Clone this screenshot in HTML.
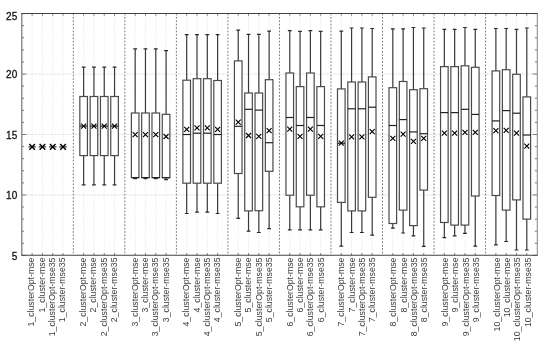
<!DOCTYPE html><html><head><meta charset="utf-8"><style>html,body{margin:0;padding:0;background:#fff;}svg{display:block;}text{font-family:"Liberation Sans",Arial,sans-serif;}</style></head><body>
<svg width="550" height="350" viewBox="0 0 550 350">
<rect x="0" y="0" width="550" height="350" fill="#fff"/>
<line x1="21.8" y1="194.95" x2="537.1" y2="194.95" stroke="#e3e3e3" stroke-width="1" stroke-dasharray="3,1"/>
<line x1="21.8" y1="134.50" x2="537.1" y2="134.50" stroke="#e3e3e3" stroke-width="1" stroke-dasharray="3,1"/>
<line x1="21.8" y1="74.05" x2="537.1" y2="74.05" stroke="#e3e3e3" stroke-width="1" stroke-dasharray="3,1"/>
<line x1="32.11" y1="13.5" x2="32.11" y2="255.3" stroke="#e2e2e2" stroke-width="0.8" stroke-dasharray="1,1.2"/>
<line x1="42.41" y1="13.5" x2="42.41" y2="255.3" stroke="#e2e2e2" stroke-width="0.8" stroke-dasharray="1,1.2"/>
<line x1="52.72" y1="13.5" x2="52.72" y2="255.3" stroke="#e2e2e2" stroke-width="0.8" stroke-dasharray="1,1.2"/>
<line x1="63.02" y1="13.5" x2="63.02" y2="255.3" stroke="#e2e2e2" stroke-width="0.8" stroke-dasharray="1,1.2"/>
<line x1="83.64" y1="13.5" x2="83.64" y2="255.3" stroke="#e2e2e2" stroke-width="0.8" stroke-dasharray="1,1.2"/>
<line x1="93.94" y1="13.5" x2="93.94" y2="255.3" stroke="#e2e2e2" stroke-width="0.8" stroke-dasharray="1,1.2"/>
<line x1="104.25" y1="13.5" x2="104.25" y2="255.3" stroke="#e2e2e2" stroke-width="0.8" stroke-dasharray="1,1.2"/>
<line x1="114.55" y1="13.5" x2="114.55" y2="255.3" stroke="#e2e2e2" stroke-width="0.8" stroke-dasharray="1,1.2"/>
<line x1="135.17" y1="13.5" x2="135.17" y2="255.3" stroke="#e2e2e2" stroke-width="0.8" stroke-dasharray="1,1.2"/>
<line x1="145.47" y1="13.5" x2="145.47" y2="255.3" stroke="#e2e2e2" stroke-width="0.8" stroke-dasharray="1,1.2"/>
<line x1="155.78" y1="13.5" x2="155.78" y2="255.3" stroke="#e2e2e2" stroke-width="0.8" stroke-dasharray="1,1.2"/>
<line x1="166.08" y1="13.5" x2="166.08" y2="255.3" stroke="#e2e2e2" stroke-width="0.8" stroke-dasharray="1,1.2"/>
<line x1="186.70" y1="13.5" x2="186.70" y2="255.3" stroke="#e2e2e2" stroke-width="0.8" stroke-dasharray="1,1.2"/>
<line x1="197.00" y1="13.5" x2="197.00" y2="255.3" stroke="#e2e2e2" stroke-width="0.8" stroke-dasharray="1,1.2"/>
<line x1="207.31" y1="13.5" x2="207.31" y2="255.3" stroke="#e2e2e2" stroke-width="0.8" stroke-dasharray="1,1.2"/>
<line x1="217.61" y1="13.5" x2="217.61" y2="255.3" stroke="#e2e2e2" stroke-width="0.8" stroke-dasharray="1,1.2"/>
<line x1="238.23" y1="13.5" x2="238.23" y2="255.3" stroke="#e2e2e2" stroke-width="0.8" stroke-dasharray="1,1.2"/>
<line x1="248.53" y1="13.5" x2="248.53" y2="255.3" stroke="#e2e2e2" stroke-width="0.8" stroke-dasharray="1,1.2"/>
<line x1="258.84" y1="13.5" x2="258.84" y2="255.3" stroke="#e2e2e2" stroke-width="0.8" stroke-dasharray="1,1.2"/>
<line x1="269.14" y1="13.5" x2="269.14" y2="255.3" stroke="#e2e2e2" stroke-width="0.8" stroke-dasharray="1,1.2"/>
<line x1="289.76" y1="13.5" x2="289.76" y2="255.3" stroke="#e2e2e2" stroke-width="0.8" stroke-dasharray="1,1.2"/>
<line x1="300.06" y1="13.5" x2="300.06" y2="255.3" stroke="#e2e2e2" stroke-width="0.8" stroke-dasharray="1,1.2"/>
<line x1="310.37" y1="13.5" x2="310.37" y2="255.3" stroke="#e2e2e2" stroke-width="0.8" stroke-dasharray="1,1.2"/>
<line x1="320.67" y1="13.5" x2="320.67" y2="255.3" stroke="#e2e2e2" stroke-width="0.8" stroke-dasharray="1,1.2"/>
<line x1="341.29" y1="13.5" x2="341.29" y2="255.3" stroke="#e2e2e2" stroke-width="0.8" stroke-dasharray="1,1.2"/>
<line x1="351.59" y1="13.5" x2="351.59" y2="255.3" stroke="#e2e2e2" stroke-width="0.8" stroke-dasharray="1,1.2"/>
<line x1="361.90" y1="13.5" x2="361.90" y2="255.3" stroke="#e2e2e2" stroke-width="0.8" stroke-dasharray="1,1.2"/>
<line x1="372.20" y1="13.5" x2="372.20" y2="255.3" stroke="#e2e2e2" stroke-width="0.8" stroke-dasharray="1,1.2"/>
<line x1="392.82" y1="13.5" x2="392.82" y2="255.3" stroke="#e2e2e2" stroke-width="0.8" stroke-dasharray="1,1.2"/>
<line x1="403.12" y1="13.5" x2="403.12" y2="255.3" stroke="#e2e2e2" stroke-width="0.8" stroke-dasharray="1,1.2"/>
<line x1="413.43" y1="13.5" x2="413.43" y2="255.3" stroke="#e2e2e2" stroke-width="0.8" stroke-dasharray="1,1.2"/>
<line x1="423.73" y1="13.5" x2="423.73" y2="255.3" stroke="#e2e2e2" stroke-width="0.8" stroke-dasharray="1,1.2"/>
<line x1="444.35" y1="13.5" x2="444.35" y2="255.3" stroke="#e2e2e2" stroke-width="0.8" stroke-dasharray="1,1.2"/>
<line x1="454.65" y1="13.5" x2="454.65" y2="255.3" stroke="#e2e2e2" stroke-width="0.8" stroke-dasharray="1,1.2"/>
<line x1="464.96" y1="13.5" x2="464.96" y2="255.3" stroke="#e2e2e2" stroke-width="0.8" stroke-dasharray="1,1.2"/>
<line x1="475.26" y1="13.5" x2="475.26" y2="255.3" stroke="#e2e2e2" stroke-width="0.8" stroke-dasharray="1,1.2"/>
<line x1="495.88" y1="13.5" x2="495.88" y2="255.3" stroke="#e2e2e2" stroke-width="0.8" stroke-dasharray="1,1.2"/>
<line x1="506.18" y1="13.5" x2="506.18" y2="255.3" stroke="#e2e2e2" stroke-width="0.8" stroke-dasharray="1,1.2"/>
<line x1="516.49" y1="13.5" x2="516.49" y2="255.3" stroke="#e2e2e2" stroke-width="0.8" stroke-dasharray="1,1.2"/>
<line x1="526.79" y1="13.5" x2="526.79" y2="255.3" stroke="#e2e2e2" stroke-width="0.8" stroke-dasharray="1,1.2"/>
<line x1="73.33" y1="13.5" x2="73.33" y2="255.3" stroke="#7a7a7a" stroke-width="1" stroke-dasharray="1.8,1.6"/>
<line x1="124.86" y1="13.5" x2="124.86" y2="255.3" stroke="#7a7a7a" stroke-width="1" stroke-dasharray="1.8,1.6"/>
<line x1="176.39" y1="13.5" x2="176.39" y2="255.3" stroke="#7a7a7a" stroke-width="1" stroke-dasharray="1.8,1.6"/>
<line x1="227.92" y1="13.5" x2="227.92" y2="255.3" stroke="#7a7a7a" stroke-width="1" stroke-dasharray="1.8,1.6"/>
<line x1="279.45" y1="13.5" x2="279.45" y2="255.3" stroke="#7a7a7a" stroke-width="1" stroke-dasharray="1.8,1.6"/>
<line x1="330.98" y1="13.5" x2="330.98" y2="255.3" stroke="#7a7a7a" stroke-width="1" stroke-dasharray="1.8,1.6"/>
<line x1="382.51" y1="13.5" x2="382.51" y2="255.3" stroke="#7a7a7a" stroke-width="1" stroke-dasharray="1.8,1.6"/>
<line x1="434.04" y1="13.5" x2="434.04" y2="255.3" stroke="#7a7a7a" stroke-width="1" stroke-dasharray="1.8,1.6"/>
<line x1="485.57" y1="13.5" x2="485.57" y2="255.3" stroke="#7a7a7a" stroke-width="1" stroke-dasharray="1.8,1.6"/>
<path d="M21.8,255.40h4.5M537.1,255.40h-4.5M21.8,243.31h2.2M537.1,243.31h-2.2M21.8,231.22h2.2M537.1,231.22h-2.2M21.8,219.13h2.2M537.1,219.13h-2.2M21.8,207.04h2.2M537.1,207.04h-2.2M21.8,194.95h4.5M537.1,194.95h-4.5M21.8,182.86h2.2M537.1,182.86h-2.2M21.8,170.77h2.2M537.1,170.77h-2.2M21.8,158.68h2.2M537.1,158.68h-2.2M21.8,146.59h2.2M537.1,146.59h-2.2M21.8,134.50h4.5M537.1,134.50h-4.5M21.8,122.41h2.2M537.1,122.41h-2.2M21.8,110.32h2.2M537.1,110.32h-2.2M21.8,98.23h2.2M537.1,98.23h-2.2M21.8,86.14h2.2M537.1,86.14h-2.2M21.8,74.05h4.5M537.1,74.05h-4.5M21.8,61.96h2.2M537.1,61.96h-2.2M21.8,49.87h2.2M537.1,49.87h-2.2M21.8,37.78h2.2M537.1,37.78h-2.2M21.8,25.69h2.2M537.1,25.69h-2.2M21.8,13.60h4.5M537.1,13.60h-4.5M32.11,13.5v2.2M32.11,255.3v-2.2M42.41,13.5v2.2M42.41,255.3v-2.2M52.72,13.5v2.2M52.72,255.3v-2.2M63.02,13.5v2.2M63.02,255.3v-2.2M83.64,13.5v2.2M83.64,255.3v-2.2M93.94,13.5v2.2M93.94,255.3v-2.2M104.25,13.5v2.2M104.25,255.3v-2.2M114.55,13.5v2.2M114.55,255.3v-2.2M135.17,13.5v2.2M135.17,255.3v-2.2M145.47,13.5v2.2M145.47,255.3v-2.2M155.78,13.5v2.2M155.78,255.3v-2.2M166.08,13.5v2.2M166.08,255.3v-2.2M186.70,13.5v2.2M186.70,255.3v-2.2M197.00,13.5v2.2M197.00,255.3v-2.2M207.31,13.5v2.2M207.31,255.3v-2.2M217.61,13.5v2.2M217.61,255.3v-2.2M238.23,13.5v2.2M238.23,255.3v-2.2M248.53,13.5v2.2M248.53,255.3v-2.2M258.84,13.5v2.2M258.84,255.3v-2.2M269.14,13.5v2.2M269.14,255.3v-2.2M289.76,13.5v2.2M289.76,255.3v-2.2M300.06,13.5v2.2M300.06,255.3v-2.2M310.37,13.5v2.2M310.37,255.3v-2.2M320.67,13.5v2.2M320.67,255.3v-2.2M341.29,13.5v2.2M341.29,255.3v-2.2M351.59,13.5v2.2M351.59,255.3v-2.2M361.90,13.5v2.2M361.90,255.3v-2.2M372.20,13.5v2.2M372.20,255.3v-2.2M392.82,13.5v2.2M392.82,255.3v-2.2M403.12,13.5v2.2M403.12,255.3v-2.2M413.43,13.5v2.2M413.43,255.3v-2.2M423.73,13.5v2.2M423.73,255.3v-2.2M444.35,13.5v2.2M444.35,255.3v-2.2M454.65,13.5v2.2M454.65,255.3v-2.2M464.96,13.5v2.2M464.96,255.3v-2.2M475.26,13.5v2.2M475.26,255.3v-2.2M495.88,13.5v2.2M495.88,255.3v-2.2M506.18,13.5v2.2M506.18,255.3v-2.2M516.49,13.5v2.2M516.49,255.3v-2.2M526.79,13.5v2.2M526.79,255.3v-2.2" stroke="#7a7a7a" stroke-width="1" fill="none"/>
<path d="M21.8,13.5V255.3" stroke="#808080" stroke-width="1.3" fill="none"/>
<path d="M537.3000000000001,13.5V255.3" stroke="#8a8a8a" stroke-width="1.05" fill="none"/>
<path d="M21.2,13.5H537.7M21.2,255.3H537.7" stroke="#444" stroke-width="1.1" fill="none"/>
<path d="M28.31,146.85000000000002h7.6" stroke="#3a3a3a" stroke-width="1.2" fill="none"/>
<path d="M29.31,144.05l5.6,5.6M29.31,149.65l5.6,-5.6" stroke="#000" stroke-width="1.4" fill="none"/>
<path d="M38.61,146.85000000000002h7.6" stroke="#3a3a3a" stroke-width="1.2" fill="none"/>
<path d="M39.61,144.05l5.6,5.6M39.61,149.65l5.6,-5.6" stroke="#000" stroke-width="1.4" fill="none"/>
<path d="M48.92,146.85000000000002h7.6" stroke="#3a3a3a" stroke-width="1.2" fill="none"/>
<path d="M49.92,144.05l5.6,5.6M49.92,149.65l5.6,-5.6" stroke="#000" stroke-width="1.4" fill="none"/>
<path d="M59.22,146.85000000000002h7.6" stroke="#3a3a3a" stroke-width="1.2" fill="none"/>
<path d="M60.22,144.05l5.6,5.6M60.22,149.65l5.6,-5.6" stroke="#000" stroke-width="1.4" fill="none"/>
<path d="M83.64,67.1V96.5M83.64,155.60000000000002V184.8" stroke="#3a3a3a" stroke-width="1.2" fill="none"/>
<path d="M81.74,67.1h3.8M81.74,184.8h3.8" stroke="#2a2a2a" stroke-width="1.2" fill="none"/>
<rect x="79.84" y="96.5" width="7.6" height="59.10" fill="#fff" stroke="#4a4a4a" stroke-width="1.2"/>
<path d="M79.84,126.1h7.6" stroke="#222" stroke-width="1.2" fill="none"/>
<path d="M81.14,123.60l5.0,5.0M81.14,128.60l5.0,-5.0" stroke="#000" stroke-width="1.15" fill="none"/>
<path d="M93.94,67.1V96.5M93.94,155.60000000000002V184.8" stroke="#3a3a3a" stroke-width="1.2" fill="none"/>
<path d="M92.04,67.1h3.8M92.04,184.8h3.8" stroke="#2a2a2a" stroke-width="1.2" fill="none"/>
<rect x="90.14" y="96.5" width="7.6" height="59.10" fill="#fff" stroke="#4a4a4a" stroke-width="1.2"/>
<path d="M90.14,126.1h7.6" stroke="#222" stroke-width="1.2" fill="none"/>
<path d="M91.44,123.60l5.0,5.0M91.44,128.60l5.0,-5.0" stroke="#000" stroke-width="1.15" fill="none"/>
<path d="M104.25,67.1V96.5M104.25,155.60000000000002V184.8" stroke="#3a3a3a" stroke-width="1.2" fill="none"/>
<path d="M102.35,67.1h3.8M102.35,184.8h3.8" stroke="#2a2a2a" stroke-width="1.2" fill="none"/>
<rect x="100.45" y="96.5" width="7.6" height="59.10" fill="#fff" stroke="#4a4a4a" stroke-width="1.2"/>
<path d="M100.45,126.1h7.6" stroke="#222" stroke-width="1.2" fill="none"/>
<path d="M101.75,123.60l5.0,5.0M101.75,128.60l5.0,-5.0" stroke="#000" stroke-width="1.15" fill="none"/>
<path d="M114.55,67.1V96.5M114.55,155.60000000000002V184.8" stroke="#3a3a3a" stroke-width="1.2" fill="none"/>
<path d="M112.65,67.1h3.8M112.65,184.8h3.8" stroke="#2a2a2a" stroke-width="1.2" fill="none"/>
<rect x="110.75" y="96.5" width="7.6" height="59.10" fill="#fff" stroke="#4a4a4a" stroke-width="1.2"/>
<path d="M110.75,126.1h7.6" stroke="#222" stroke-width="1.2" fill="none"/>
<path d="M112.05,123.60l5.0,5.0M112.05,128.60l5.0,-5.0" stroke="#000" stroke-width="1.15" fill="none"/>
<path d="M135.17,48.8V113.0M135.17,177.60000000000002V178.60000000000002" stroke="#3a3a3a" stroke-width="1.2" fill="none"/>
<path d="M133.27,48.8h3.8M133.27,178.60000000000002h3.8" stroke="#2a2a2a" stroke-width="1.2" fill="none"/>
<rect x="131.37" y="113.0" width="7.6" height="64.60" fill="#fff" stroke="#4a4a4a" stroke-width="1.2"/>
<path d="M131.37,177.60000000000002h7.6" stroke="#222" stroke-width="1.2" fill="none"/>
<path d="M132.67,132.20l5.0,5.0M132.67,137.20l5.0,-5.0" stroke="#000" stroke-width="1.15" fill="none"/>
<path d="M145.47,48.8V113.0M145.47,177.60000000000002V178.60000000000002" stroke="#3a3a3a" stroke-width="1.2" fill="none"/>
<path d="M143.57,48.8h3.8M143.57,178.60000000000002h3.8" stroke="#2a2a2a" stroke-width="1.2" fill="none"/>
<rect x="141.67" y="113.0" width="7.6" height="64.60" fill="#fff" stroke="#4a4a4a" stroke-width="1.2"/>
<path d="M141.67,177.60000000000002h7.6" stroke="#222" stroke-width="1.2" fill="none"/>
<path d="M142.97,132.20l5.0,5.0M142.97,137.20l5.0,-5.0" stroke="#000" stroke-width="1.15" fill="none"/>
<path d="M155.78,48.8V113.0M155.78,177.60000000000002V178.60000000000002" stroke="#3a3a3a" stroke-width="1.2" fill="none"/>
<path d="M153.88,48.8h3.8M153.88,178.60000000000002h3.8" stroke="#2a2a2a" stroke-width="1.2" fill="none"/>
<rect x="151.98" y="113.0" width="7.6" height="64.60" fill="#fff" stroke="#4a4a4a" stroke-width="1.2"/>
<path d="M151.98,177.60000000000002h7.6" stroke="#222" stroke-width="1.2" fill="none"/>
<path d="M153.28,132.20l5.0,5.0M153.28,137.20l5.0,-5.0" stroke="#000" stroke-width="1.15" fill="none"/>
<path d="M166.08,50.599999999999994V114.3M166.08,177.70000000000002V179.70000000000002" stroke="#3a3a3a" stroke-width="1.2" fill="none"/>
<path d="M164.18,50.599999999999994h3.8M164.18,179.70000000000002h3.8" stroke="#2a2a2a" stroke-width="1.2" fill="none"/>
<rect x="162.28" y="114.3" width="7.6" height="63.40" fill="#fff" stroke="#4a4a4a" stroke-width="1.2"/>
<path d="M162.28,177.70000000000002h7.6" stroke="#222" stroke-width="1.2" fill="none"/>
<path d="M163.58,134.00l5.0,5.0M163.58,139.00l5.0,-5.0" stroke="#000" stroke-width="1.15" fill="none"/>
<path d="M186.70,34.699999999999996V80.2M186.70,183.20000000000002V213.5" stroke="#3a3a3a" stroke-width="1.2" fill="none"/>
<path d="M184.80,34.699999999999996h3.8M184.80,213.5h3.8" stroke="#2a2a2a" stroke-width="1.2" fill="none"/>
<rect x="182.90" y="80.2" width="7.6" height="103.00" fill="#fff" stroke="#4a4a4a" stroke-width="1.2"/>
<path d="M182.90,134.5h7.6" stroke="#222" stroke-width="1.2" fill="none"/>
<path d="M184.20,126.80l5.0,5.0M184.20,131.80l5.0,-5.0" stroke="#000" stroke-width="1.15" fill="none"/>
<path d="M197.00,34.699999999999996V78.7M197.00,183.20000000000002V212.20000000000002" stroke="#3a3a3a" stroke-width="1.2" fill="none"/>
<path d="M195.10,34.699999999999996h3.8M195.10,212.20000000000002h3.8" stroke="#2a2a2a" stroke-width="1.2" fill="none"/>
<rect x="193.20" y="78.7" width="7.6" height="104.50" fill="#fff" stroke="#4a4a4a" stroke-width="1.2"/>
<path d="M193.20,133.20000000000002h7.6" stroke="#222" stroke-width="1.2" fill="none"/>
<path d="M194.50,125.30l5.0,5.0M194.50,130.30l5.0,-5.0" stroke="#000" stroke-width="1.15" fill="none"/>
<path d="M207.31,34.699999999999996V78.7M207.31,183.20000000000002V212.20000000000002" stroke="#3a3a3a" stroke-width="1.2" fill="none"/>
<path d="M205.41,34.699999999999996h3.8M205.41,212.20000000000002h3.8" stroke="#2a2a2a" stroke-width="1.2" fill="none"/>
<rect x="203.51" y="78.7" width="7.6" height="104.50" fill="#fff" stroke="#4a4a4a" stroke-width="1.2"/>
<path d="M203.51,133.20000000000002h7.6" stroke="#222" stroke-width="1.2" fill="none"/>
<path d="M204.81,125.30l5.0,5.0M204.81,130.30l5.0,-5.0" stroke="#000" stroke-width="1.15" fill="none"/>
<path d="M217.61,34.699999999999996V80.5M217.61,183.20000000000002V213.5" stroke="#3a3a3a" stroke-width="1.2" fill="none"/>
<path d="M215.71,34.699999999999996h3.8M215.71,213.5h3.8" stroke="#2a2a2a" stroke-width="1.2" fill="none"/>
<rect x="213.81" y="80.5" width="7.6" height="102.70" fill="#fff" stroke="#4a4a4a" stroke-width="1.2"/>
<path d="M213.81,134.5h7.6" stroke="#222" stroke-width="1.2" fill="none"/>
<path d="M215.11,126.80l5.0,5.0M215.11,131.80l5.0,-5.0" stroke="#000" stroke-width="1.15" fill="none"/>
<path d="M238.23,30.1V60.9M238.23,173.5V218.4" stroke="#3a3a3a" stroke-width="1.2" fill="none"/>
<path d="M236.33,30.1h3.8M236.33,218.4h3.8" stroke="#2a2a2a" stroke-width="1.2" fill="none"/>
<rect x="234.43" y="60.9" width="7.6" height="112.60" fill="#fff" stroke="#4a4a4a" stroke-width="1.2"/>
<path d="M234.43,126.3h7.6" stroke="#222" stroke-width="1.2" fill="none"/>
<path d="M235.73,119.70l5.0,5.0M235.73,124.70l5.0,-5.0" stroke="#000" stroke-width="1.15" fill="none"/>
<path d="M248.53,34.4V93.0M248.53,210.9V231.20000000000002" stroke="#3a3a3a" stroke-width="1.2" fill="none"/>
<path d="M246.63,34.4h3.8M246.63,231.20000000000002h3.8" stroke="#2a2a2a" stroke-width="1.2" fill="none"/>
<rect x="244.73" y="93.0" width="7.6" height="117.90" fill="#fff" stroke="#4a4a4a" stroke-width="1.2"/>
<path d="M244.73,109.3h7.6" stroke="#222" stroke-width="1.2" fill="none"/>
<path d="M246.03,133.00l5.0,5.0M246.03,138.00l5.0,-5.0" stroke="#000" stroke-width="1.15" fill="none"/>
<path d="M258.84,34.4V93.0M258.84,210.70000000000002V232.5" stroke="#3a3a3a" stroke-width="1.2" fill="none"/>
<path d="M256.94,34.4h3.8M256.94,232.5h3.8" stroke="#2a2a2a" stroke-width="1.2" fill="none"/>
<rect x="255.04" y="93.0" width="7.6" height="117.70" fill="#fff" stroke="#4a4a4a" stroke-width="1.2"/>
<path d="M255.04,110.1h7.6" stroke="#222" stroke-width="1.2" fill="none"/>
<path d="M256.34,133.80l5.0,5.0M256.34,138.80l5.0,-5.0" stroke="#000" stroke-width="1.15" fill="none"/>
<path d="M269.14,31.1V79.7M269.14,171.3V228.70000000000002" stroke="#3a3a3a" stroke-width="1.2" fill="none"/>
<path d="M267.24,31.1h3.8M267.24,228.70000000000002h3.8" stroke="#2a2a2a" stroke-width="1.2" fill="none"/>
<rect x="265.34" y="79.7" width="7.6" height="91.60" fill="#fff" stroke="#4a4a4a" stroke-width="1.2"/>
<path d="M265.34,142.70000000000002h7.6" stroke="#222" stroke-width="1.2" fill="none"/>
<path d="M266.64,128.10l5.0,5.0M266.64,133.10l5.0,-5.0" stroke="#000" stroke-width="1.15" fill="none"/>
<path d="M289.76,30.6V73.0M289.76,195.20000000000002V229.9" stroke="#3a3a3a" stroke-width="1.2" fill="none"/>
<path d="M287.86,30.6h3.8M287.86,229.9h3.8" stroke="#2a2a2a" stroke-width="1.2" fill="none"/>
<rect x="285.96" y="73.0" width="7.6" height="122.20" fill="#fff" stroke="#4a4a4a" stroke-width="1.2"/>
<path d="M285.96,117.5h7.6" stroke="#222" stroke-width="1.2" fill="none"/>
<path d="M287.26,126.60l5.0,5.0M287.26,131.60l5.0,-5.0" stroke="#000" stroke-width="1.15" fill="none"/>
<path d="M300.06,31.400000000000002V86.6M300.06,206.8V229.9" stroke="#3a3a3a" stroke-width="1.2" fill="none"/>
<path d="M298.16,31.400000000000002h3.8M298.16,229.9h3.8" stroke="#2a2a2a" stroke-width="1.2" fill="none"/>
<rect x="296.26" y="86.6" width="7.6" height="120.20" fill="#fff" stroke="#4a4a4a" stroke-width="1.2"/>
<path d="M296.26,125.5h7.6" stroke="#222" stroke-width="1.2" fill="none"/>
<path d="M297.56,133.80l5.0,5.0M297.56,138.80l5.0,-5.0" stroke="#000" stroke-width="1.15" fill="none"/>
<path d="M310.37,30.6V73.0M310.37,195.20000000000002V229.9" stroke="#3a3a3a" stroke-width="1.2" fill="none"/>
<path d="M308.47,30.6h3.8M308.47,229.9h3.8" stroke="#2a2a2a" stroke-width="1.2" fill="none"/>
<rect x="306.57" y="73.0" width="7.6" height="122.20" fill="#fff" stroke="#4a4a4a" stroke-width="1.2"/>
<path d="M306.57,117.5h7.6" stroke="#222" stroke-width="1.2" fill="none"/>
<path d="M307.87,126.60l5.0,5.0M307.87,131.60l5.0,-5.0" stroke="#000" stroke-width="1.15" fill="none"/>
<path d="M320.67,31.400000000000002V86.6M320.67,206.8V229.9" stroke="#3a3a3a" stroke-width="1.2" fill="none"/>
<path d="M318.77,31.400000000000002h3.8M318.77,229.9h3.8" stroke="#2a2a2a" stroke-width="1.2" fill="none"/>
<rect x="316.87" y="86.6" width="7.6" height="120.20" fill="#fff" stroke="#4a4a4a" stroke-width="1.2"/>
<path d="M316.87,125.5h7.6" stroke="#222" stroke-width="1.2" fill="none"/>
<path d="M318.17,133.80l5.0,5.0M318.17,138.80l5.0,-5.0" stroke="#000" stroke-width="1.15" fill="none"/>
<path d="M341.29,31.1V88.89999999999999M341.29,202.4V246.10000000000002" stroke="#3a3a3a" stroke-width="1.2" fill="none"/>
<path d="M339.39,31.1h3.8M339.39,246.10000000000002h3.8" stroke="#2a2a2a" stroke-width="1.2" fill="none"/>
<rect x="337.49" y="88.89999999999999" width="7.6" height="113.50" fill="#fff" stroke="#4a4a4a" stroke-width="1.2"/>
<path d="M337.49,143.20000000000002h7.6" stroke="#222" stroke-width="1.2" fill="none"/>
<path d="M338.79,140.70l5.0,5.0M338.79,145.70l5.0,-5.0" stroke="#000" stroke-width="1.15" fill="none"/>
<path d="M351.59,28.0V82.0M351.59,210.9V232.5" stroke="#3a3a3a" stroke-width="1.2" fill="none"/>
<path d="M349.69,28.0h3.8M349.69,232.5h3.8" stroke="#2a2a2a" stroke-width="1.2" fill="none"/>
<rect x="347.79" y="82.0" width="7.6" height="128.90" fill="#fff" stroke="#4a4a4a" stroke-width="1.2"/>
<path d="M347.79,108.8h7.6" stroke="#222" stroke-width="1.2" fill="none"/>
<path d="M349.09,134.30l5.0,5.0M349.09,139.30l5.0,-5.0" stroke="#000" stroke-width="1.15" fill="none"/>
<path d="M361.90,28.0V82.0M361.90,210.9V232.5" stroke="#3a3a3a" stroke-width="1.2" fill="none"/>
<path d="M360.00,28.0h3.8M360.00,232.5h3.8" stroke="#2a2a2a" stroke-width="1.2" fill="none"/>
<rect x="358.10" y="82.0" width="7.6" height="128.90" fill="#fff" stroke="#4a4a4a" stroke-width="1.2"/>
<path d="M358.10,108.8h7.6" stroke="#222" stroke-width="1.2" fill="none"/>
<path d="M359.40,134.30l5.0,5.0M359.40,139.30l5.0,-5.0" stroke="#000" stroke-width="1.15" fill="none"/>
<path d="M372.20,28.5V76.89999999999999M372.20,197.3V235.10000000000002" stroke="#3a3a3a" stroke-width="1.2" fill="none"/>
<path d="M370.30,28.5h3.8M370.30,235.10000000000002h3.8" stroke="#2a2a2a" stroke-width="1.2" fill="none"/>
<rect x="368.40" y="76.89999999999999" width="7.6" height="120.40" fill="#fff" stroke="#4a4a4a" stroke-width="1.2"/>
<path d="M368.40,107.2h7.6" stroke="#222" stroke-width="1.2" fill="none"/>
<path d="M369.70,129.20l5.0,5.0M369.70,134.20l5.0,-5.0" stroke="#000" stroke-width="1.15" fill="none"/>
<path d="M392.82,28.8V87.7M392.82,223.5V228.10000000000002" stroke="#3a3a3a" stroke-width="1.2" fill="none"/>
<path d="M390.92,28.8h3.8M390.92,228.10000000000002h3.8" stroke="#2a2a2a" stroke-width="1.2" fill="none"/>
<rect x="389.02" y="87.7" width="7.6" height="135.80" fill="#fff" stroke="#4a4a4a" stroke-width="1.2"/>
<path d="M389.02,125.5h7.6" stroke="#222" stroke-width="1.2" fill="none"/>
<path d="M390.32,135.80l5.0,5.0M390.32,140.80l5.0,-5.0" stroke="#000" stroke-width="1.15" fill="none"/>
<path d="M403.12,28.8V81.5M403.12,210.10000000000002V233.0" stroke="#3a3a3a" stroke-width="1.2" fill="none"/>
<path d="M401.22,28.8h3.8M401.22,233.0h3.8" stroke="#2a2a2a" stroke-width="1.2" fill="none"/>
<rect x="399.32" y="81.5" width="7.6" height="128.60" fill="#fff" stroke="#4a4a4a" stroke-width="1.2"/>
<path d="M399.32,119.6h7.6" stroke="#222" stroke-width="1.2" fill="none"/>
<path d="M400.62,131.70l5.0,5.0M400.62,136.70l5.0,-5.0" stroke="#000" stroke-width="1.15" fill="none"/>
<path d="M413.43,27.5V89.7M413.43,225.60000000000002V235.9" stroke="#3a3a3a" stroke-width="1.2" fill="none"/>
<path d="M411.53,27.5h3.8M411.53,235.9h3.8" stroke="#2a2a2a" stroke-width="1.2" fill="none"/>
<rect x="409.63" y="89.7" width="7.6" height="135.90" fill="#fff" stroke="#4a4a4a" stroke-width="1.2"/>
<path d="M409.63,131.9h7.6" stroke="#222" stroke-width="1.2" fill="none"/>
<path d="M410.93,138.90l5.0,5.0M410.93,143.90l5.0,-5.0" stroke="#000" stroke-width="1.15" fill="none"/>
<path d="M423.73,28.0V88.7M423.73,190.10000000000002V246.4" stroke="#3a3a3a" stroke-width="1.2" fill="none"/>
<path d="M421.83,28.0h3.8M421.83,246.4h3.8" stroke="#2a2a2a" stroke-width="1.2" fill="none"/>
<rect x="419.93" y="88.7" width="7.6" height="101.40" fill="#fff" stroke="#4a4a4a" stroke-width="1.2"/>
<path d="M419.93,133.70000000000002h7.6" stroke="#222" stroke-width="1.2" fill="none"/>
<path d="M421.23,135.80l5.0,5.0M421.23,140.80l5.0,-5.0" stroke="#000" stroke-width="1.15" fill="none"/>
<path d="M444.35,29.3V66.6M444.35,222.5V237.70000000000002" stroke="#3a3a3a" stroke-width="1.2" fill="none"/>
<path d="M442.45,29.3h3.8M442.45,237.70000000000002h3.8" stroke="#2a2a2a" stroke-width="1.2" fill="none"/>
<rect x="440.55" y="66.6" width="7.6" height="155.90" fill="#fff" stroke="#4a4a4a" stroke-width="1.2"/>
<path d="M440.55,112.6h7.6" stroke="#222" stroke-width="1.2" fill="none"/>
<path d="M441.85,130.70l5.0,5.0M441.85,135.70l5.0,-5.0" stroke="#000" stroke-width="1.15" fill="none"/>
<path d="M454.65,29.3V66.6M454.65,225.10000000000002V235.9" stroke="#3a3a3a" stroke-width="1.2" fill="none"/>
<path d="M452.75,29.3h3.8M452.75,235.9h3.8" stroke="#2a2a2a" stroke-width="1.2" fill="none"/>
<rect x="450.85" y="66.6" width="7.6" height="158.50" fill="#fff" stroke="#4a4a4a" stroke-width="1.2"/>
<path d="M450.85,112.6h7.6" stroke="#222" stroke-width="1.2" fill="none"/>
<path d="M452.15,130.70l5.0,5.0M452.15,135.70l5.0,-5.0" stroke="#000" stroke-width="1.15" fill="none"/>
<path d="M464.96,27.5V65.8M464.96,225.10000000000002V233.3" stroke="#3a3a3a" stroke-width="1.2" fill="none"/>
<path d="M463.06,27.5h3.8M463.06,233.3h3.8" stroke="#2a2a2a" stroke-width="1.2" fill="none"/>
<rect x="461.16" y="65.8" width="7.6" height="159.30" fill="#fff" stroke="#4a4a4a" stroke-width="1.2"/>
<path d="M461.16,109.3h7.6" stroke="#222" stroke-width="1.2" fill="none"/>
<path d="M462.46,129.90l5.0,5.0M462.46,134.90l5.0,-5.0" stroke="#000" stroke-width="1.15" fill="none"/>
<path d="M475.26,29.3V67.3M475.26,196.0V246.10000000000002" stroke="#3a3a3a" stroke-width="1.2" fill="none"/>
<path d="M473.36,29.3h3.8M473.36,246.10000000000002h3.8" stroke="#2a2a2a" stroke-width="1.2" fill="none"/>
<rect x="471.46" y="67.3" width="7.6" height="128.70" fill="#fff" stroke="#4a4a4a" stroke-width="1.2"/>
<path d="M471.46,114.39999999999999h7.6" stroke="#222" stroke-width="1.2" fill="none"/>
<path d="M472.76,129.90l5.0,5.0M472.76,134.90l5.0,-5.0" stroke="#000" stroke-width="1.15" fill="none"/>
<path d="M495.88,28.5V70.89999999999999M495.88,195.5V244.9" stroke="#3a3a3a" stroke-width="1.2" fill="none"/>
<path d="M493.98,28.5h3.8M493.98,244.9h3.8" stroke="#2a2a2a" stroke-width="1.2" fill="none"/>
<rect x="492.08" y="70.89999999999999" width="7.6" height="124.60" fill="#fff" stroke="#4a4a4a" stroke-width="1.2"/>
<path d="M492.08,120.89999999999999h7.6" stroke="#222" stroke-width="1.2" fill="none"/>
<path d="M493.38,128.10l5.0,5.0M493.38,133.10l5.0,-5.0" stroke="#000" stroke-width="1.15" fill="none"/>
<path d="M506.18,28.5V69.7M506.18,210.10000000000002V241.5" stroke="#3a3a3a" stroke-width="1.2" fill="none"/>
<path d="M504.28,28.5h3.8M504.28,241.5h3.8" stroke="#2a2a2a" stroke-width="1.2" fill="none"/>
<rect x="502.38" y="69.7" width="7.6" height="140.40" fill="#fff" stroke="#4a4a4a" stroke-width="1.2"/>
<path d="M502.38,110.6h7.6" stroke="#222" stroke-width="1.2" fill="none"/>
<path d="M503.68,127.90l5.0,5.0M503.68,132.90l5.0,-5.0" stroke="#000" stroke-width="1.15" fill="none"/>
<path d="M516.49,29.3V74.3M516.49,199.9V250.0" stroke="#3a3a3a" stroke-width="1.2" fill="none"/>
<path d="M514.59,29.3h3.8M514.59,250.0h3.8" stroke="#2a2a2a" stroke-width="1.2" fill="none"/>
<rect x="512.69" y="74.3" width="7.6" height="125.60" fill="#fff" stroke="#4a4a4a" stroke-width="1.2"/>
<path d="M512.69,113.2h7.6" stroke="#222" stroke-width="1.2" fill="none"/>
<path d="M513.99,130.70l5.0,5.0M513.99,135.70l5.0,-5.0" stroke="#000" stroke-width="1.15" fill="none"/>
<path d="M526.79,28.0V96.89999999999999M526.79,219.10000000000002V250.0" stroke="#3a3a3a" stroke-width="1.2" fill="none"/>
<path d="M524.89,28.0h3.8M524.89,250.0h3.8" stroke="#2a2a2a" stroke-width="1.2" fill="none"/>
<rect x="522.99" y="96.89999999999999" width="7.6" height="122.20" fill="#fff" stroke="#4a4a4a" stroke-width="1.2"/>
<path d="M522.99,135.0h7.6" stroke="#222" stroke-width="1.2" fill="none"/>
<path d="M524.29,143.60l5.0,5.0M524.29,148.60l5.0,-5.0" stroke="#000" stroke-width="1.15" fill="none"/>
<text transform="translate(17.2,260.40) scale(0.91,1)" font-size="11" text-anchor="end" fill="#111" stroke="#111" stroke-width="0.3">5</text>
<text transform="translate(17.2,198.95) scale(0.91,1)" font-size="11" text-anchor="end" fill="#111" stroke="#111" stroke-width="0.3">10</text>
<text transform="translate(17.2,138.50) scale(0.91,1)" font-size="11" text-anchor="end" fill="#111" stroke="#111" stroke-width="0.3">15</text>
<text transform="translate(17.2,78.05) scale(0.91,1)" font-size="11" text-anchor="end" fill="#111" stroke="#111" stroke-width="0.3">20</text>
<text transform="translate(17.2,19.70) scale(0.91,1)" font-size="11" text-anchor="end" fill="#111" stroke="#111" stroke-width="0.3">25</text>
<text transform="translate(34.44,257.5) rotate(-90)" font-size="8.75" text-anchor="end" fill="#3c3c3c">1_clusterOpt-mse</text>
<text transform="translate(44.77,257.5) rotate(-90)" font-size="8.75" text-anchor="end" fill="#3c3c3c">1_cluster-mse</text>
<text transform="translate(55.11,257.5) rotate(-90)" font-size="8.75" text-anchor="end" fill="#3c3c3c">1_clusterOpt-mse35</text>
<text transform="translate(65.44,257.5) rotate(-90)" font-size="8.75" text-anchor="end" fill="#3c3c3c">1_cluster-mse35</text>
<text transform="translate(86.11,257.5) rotate(-90)" font-size="8.75" text-anchor="end" fill="#3c3c3c">2_clusterOpt-mse</text>
<text transform="translate(96.44,257.5) rotate(-90)" font-size="8.75" text-anchor="end" fill="#3c3c3c">2_cluster-mse</text>
<text transform="translate(106.78,257.5) rotate(-90)" font-size="8.75" text-anchor="end" fill="#3c3c3c">2_clusterOpt-mse35</text>
<text transform="translate(117.12,257.5) rotate(-90)" font-size="8.75" text-anchor="end" fill="#3c3c3c">2_cluster-mse35</text>
<text transform="translate(137.78,257.5) rotate(-90)" font-size="8.75" text-anchor="end" fill="#3c3c3c">3_clusterOpt-mse</text>
<text transform="translate(148.12,257.5) rotate(-90)" font-size="8.75" text-anchor="end" fill="#3c3c3c">3_cluster-mse</text>
<text transform="translate(158.46,257.5) rotate(-90)" font-size="8.75" text-anchor="end" fill="#3c3c3c">3_clusterOpt-mse35</text>
<text transform="translate(168.79,257.5) rotate(-90)" font-size="8.75" text-anchor="end" fill="#3c3c3c">3_cluster-mse35</text>
<text transform="translate(189.46,257.5) rotate(-90)" font-size="8.75" text-anchor="end" fill="#3c3c3c">4_clusterOpt-mse</text>
<text transform="translate(199.80,257.5) rotate(-90)" font-size="8.75" text-anchor="end" fill="#3c3c3c">4_cluster-mse</text>
<text transform="translate(210.13,257.5) rotate(-90)" font-size="8.75" text-anchor="end" fill="#3c3c3c">4_clusterOpt-mse35</text>
<text transform="translate(220.47,257.5) rotate(-90)" font-size="8.75" text-anchor="end" fill="#3c3c3c">4_cluster-mse35</text>
<text transform="translate(241.14,257.5) rotate(-90)" font-size="8.75" text-anchor="end" fill="#3c3c3c">5_clusterOpt-mse</text>
<text transform="translate(251.47,257.5) rotate(-90)" font-size="8.75" text-anchor="end" fill="#3c3c3c">5_cluster-mse</text>
<text transform="translate(261.81,257.5) rotate(-90)" font-size="8.75" text-anchor="end" fill="#3c3c3c">5_clusterOpt-mse35</text>
<text transform="translate(272.14,257.5) rotate(-90)" font-size="8.75" text-anchor="end" fill="#3c3c3c">5_cluster-mse35</text>
<text transform="translate(292.81,257.5) rotate(-90)" font-size="8.75" text-anchor="end" fill="#3c3c3c">6_clusterOpt-mse</text>
<text transform="translate(303.15,257.5) rotate(-90)" font-size="8.75" text-anchor="end" fill="#3c3c3c">6_cluster-mse</text>
<text transform="translate(313.48,257.5) rotate(-90)" font-size="8.75" text-anchor="end" fill="#3c3c3c">6_clusterOpt-mse35</text>
<text transform="translate(323.82,257.5) rotate(-90)" font-size="8.75" text-anchor="end" fill="#3c3c3c">6_cluster-mse35</text>
<text transform="translate(344.49,257.5) rotate(-90)" font-size="8.75" text-anchor="end" fill="#3c3c3c">7_clusterOpt-mse</text>
<text transform="translate(354.82,257.5) rotate(-90)" font-size="8.75" text-anchor="end" fill="#3c3c3c">7_cluster-mse</text>
<text transform="translate(365.16,257.5) rotate(-90)" font-size="8.75" text-anchor="end" fill="#3c3c3c">7_clusterOpt-mse35</text>
<text transform="translate(375.49,257.5) rotate(-90)" font-size="8.75" text-anchor="end" fill="#3c3c3c">7_cluster-mse35</text>
<text transform="translate(396.16,257.5) rotate(-90)" font-size="8.75" text-anchor="end" fill="#3c3c3c">8_clusterOpt-mse</text>
<text transform="translate(406.50,257.5) rotate(-90)" font-size="8.75" text-anchor="end" fill="#3c3c3c">8_cluster-mse</text>
<text transform="translate(416.83,257.5) rotate(-90)" font-size="8.75" text-anchor="end" fill="#3c3c3c">8_clusterOpt-mse35</text>
<text transform="translate(427.17,257.5) rotate(-90)" font-size="8.75" text-anchor="end" fill="#3c3c3c">8_cluster-mse35</text>
<text transform="translate(447.84,257.5) rotate(-90)" font-size="8.75" text-anchor="end" fill="#3c3c3c">9_clusterOpt-mse</text>
<text transform="translate(458.17,257.5) rotate(-90)" font-size="8.75" text-anchor="end" fill="#3c3c3c">9_cluster-mse</text>
<text transform="translate(468.51,257.5) rotate(-90)" font-size="8.75" text-anchor="end" fill="#3c3c3c">9_clusterOpt-mse35</text>
<text transform="translate(478.84,257.5) rotate(-90)" font-size="8.75" text-anchor="end" fill="#3c3c3c">9_cluster-mse35</text>
<text transform="translate(499.51,257.5) rotate(-90)" font-size="8.75" text-anchor="end" fill="#3c3c3c">10_clusterOpt-mse</text>
<text transform="translate(509.85,257.5) rotate(-90)" font-size="8.75" text-anchor="end" fill="#3c3c3c">10_cluster-mse</text>
<text transform="translate(520.18,257.5) rotate(-90)" font-size="8.75" text-anchor="end" fill="#3c3c3c">10_clusterOpt-mse35</text>
<text transform="translate(530.51,257.5) rotate(-90)" font-size="8.75" text-anchor="end" fill="#3c3c3c">10_cluster-mse35</text>
</svg></body></html>
